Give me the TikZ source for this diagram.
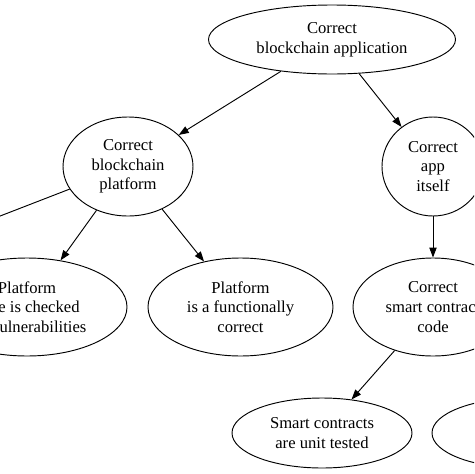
\documentclass[tikz,border=0pt]{standalone}
\usepackage{fontspec}
\setmainfont{Liberation Serif}
\usetikzlibrary{shapes.geometric, arrows.meta}

\begin{document}
\begin{tikzpicture}[
        x=0.03cm, y=-0.03cm,
        goal/.style={draw, ellipse, line width=0.8pt, inner sep=0pt, align=center,
            font=\fontsize{14.2}{16.8}\selectfont},
        rel/.style={-{Triangle[length=3mm, width=2.2mm]}, line width=0.8pt}
    ]
        \useasboundingbox (0,0) rectangle (474,474);
        \clip (0,0) rectangle (474,474);
        \node[goal, minimum width=247*0.03cm, minimum height=69*0.03cm] (app) at (332,39.5) {Correct\\blockchain application};
        \node[goal, minimum width=130*0.03cm, minimum height=99*0.03cm] (plat) at (128,166.5) {Correct\\blockchain\\platform};
        \node[goal, minimum width=102*0.03cm, minimum height=99*0.03cm] (self) at (433,166.5) {Correct\\app\\itself};
        \node[goal, minimum width=200*0.03cm, minimum height=98*0.03cm] (vuln) at (27,307) {Platform\\code is checked\\for vulnerabilities};
        \node[goal, minimum width=185*0.03cm, minimum height=98*0.03cm] (func) at (240.5,307) {Platform\\is a functionally\\correct};
        \node[goal, minimum width=160*0.03cm, minimum height=98*0.03cm] (sc) at (433,307) {Correct\\smart contract\\code};
        \node[goal, minimum width=180*0.03cm, minimum height=70*0.03cm] (unit) at (322,433) {Smart contracts\\are unit tested};
        \node[goal, minimum width=180*0.03cm, minimum height=70*0.03cm] (other) at (522,433) {};
        \coordinate (west) at (-200,293.5);
        \draw[rel] (app) -- (plat); \draw[rel] (app) -- (self);
        \draw[rel] (plat) -- (west); \draw[rel] (plat) -- (vuln); \draw[rel] (plat) -- (func);
        \draw[rel] (self) -- (sc); \draw[rel] (sc) -- (unit);
    \end{tikzpicture}
\end{document}
